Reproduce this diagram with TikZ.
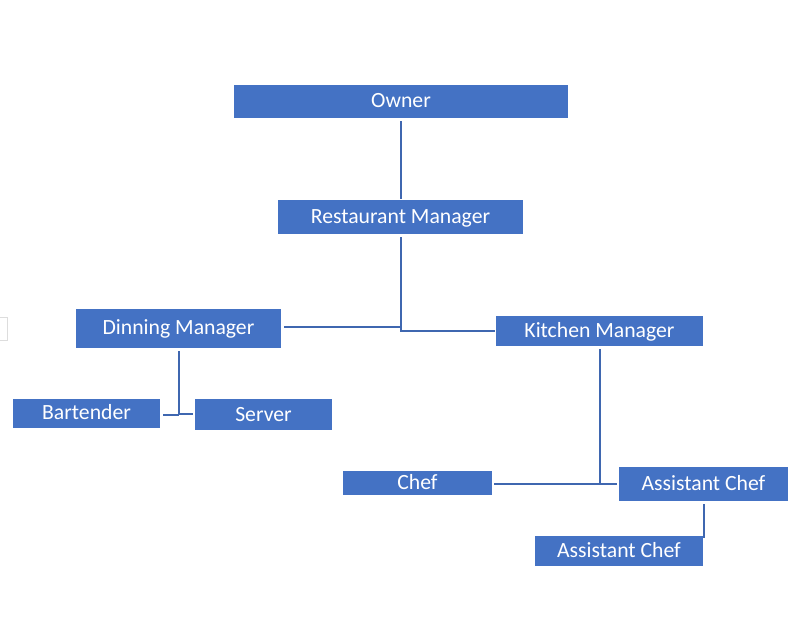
\documentclass[tikz,border=0pt]{standalone}
\usepackage{fontspec}
\setmainfont{Carlito}
\definecolor{boxblue}{HTML}{4472C4}
\definecolor{lineblue}{HTML}{3F67B0}
\definecolor{faint}{HTML}{DDDDDD}
\begin{document}
\begin{tikzpicture}[x=1pt,y=-1pt,
  box/.style={fill=boxblue, draw=none, text=white, inner sep=0pt,
    text height=16.3pt, text depth=3.3pt,
    font=\fontsize{21.7}{25}\selectfont},
  conn/.style={draw=lineblue, line width=2pt}]
\useasboundingbox (0,0) rectangle (793,628);
\draw[faint, line width=1pt] (-2,318) rectangle (7,341);
\node[box, minimum width=334pt, minimum height=33pt] (owner) at (401,101.5) {Owner};
\node[box, minimum width=245pt, minimum height=34pt] (rm) at (400.5,217) {Restaurant Manager};
\node[box, minimum width=205pt, minimum height=39pt] (dm) at (178.5,328.5) {Dinning Manager};
\node[box, minimum width=207pt, minimum height=30pt] (km) at (599.5,331) {Kitchen Manager};
\node[box, minimum width=147pt, minimum height=29pt] (bart) at (86.5,413.5) {Bartender};
\node[box, minimum width=137pt, minimum height=31pt] (server) at (263.5,414.5) {Server};
\node[box, minimum width=149pt, minimum height=24pt] (chef) at (417.5,483) {Chef};
\node[box, minimum width=169pt, minimum height=34pt] (ac1) at (703.5,484) {Assistant Chef};
\node[box, minimum width=168pt, minimum height=30pt] (ac2) at (619,551) {Assistant Chef};
% connectors
\coordinate (j1) at (401,183);
\draw[conn] ([yshift=-3pt]owner.south) -- (j1) -| ([yshift=1pt]rm.north);
\draw[conn] ([yshift=-3pt]rm.south) |- ([xshift=-1pt]km.west);
\draw[conn] ([xshift=3pt,yshift=1.5pt]dm.east) -- ([yshift=1.5pt]dm.east -| rm.south);
\draw[conn] ([yshift=-3pt]dm.south) |- ([xshift=-2pt]server.west);
\draw[conn] ([xshift=3pt,yshift=-2pt]bart.east) -- ([yshift=-2pt]bart.east -| dm.south);
\draw[conn] ([yshift=-3pt]km.south) |- ([xshift=-2pt]ac1.west);
\draw[conn] ([xshift=2pt,yshift=-1pt]chef.east) -- ([yshift=-1pt]chef.east -| km.south);
\draw[conn] ([yshift=-3pt]ac1.south) -- ([yshift=-2pt]ac1.south |- ac2.north);
\end{tikzpicture}
\end{document}
